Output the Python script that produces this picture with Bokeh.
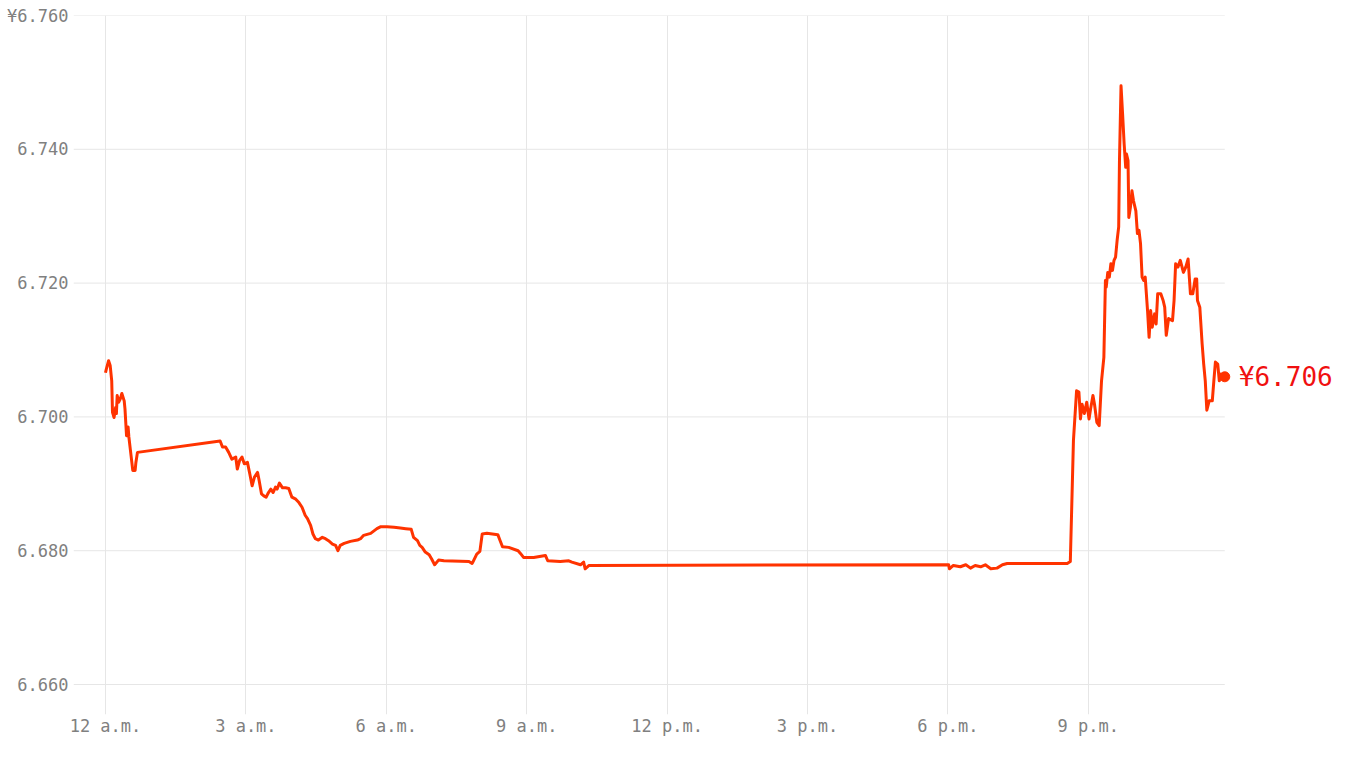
from bokeh.plotting import figure
from bokeh.models import FixedTicker, Range1d, ColumnDataSource, Label
from bokeh.embed import file_html
from bokeh.resources import INLINE

# time in minutes after midnight, price in yuan
minutes = [0, 1, 4, 6, 8, 9, 11, 13, 14, 15, 17, 19, 21, 24, 25, 27, 29, 30, 32, 35,
           38, 39, 41, 147, 150, 154, 158, 162, 167, 169, 172, 175, 178, 182, 185, 188,
           191, 195, 197, 200, 203, 206, 209, 212, 215, 218, 220, 223, 227, 231, 235,
           239, 244, 248, 252, 256, 259, 263, 266, 269, 273, 278, 282, 286, 291, 295,
           298, 301, 306, 314, 323, 327, 331, 340, 348, 353, 361, 370, 378, 385, 392,
           395, 400, 403, 406, 410, 415, 418, 422, 427, 434, 466, 470, 471, 476, 480,
           483, 489, 503, 506, 509, 517, 529, 532, 536, 549, 564, 567, 583, 594, 598,
           609, 613, 615, 620, 1081, 1082, 1087, 1096, 1103, 1109, 1115, 1122, 1128,
           1135, 1143, 1150, 1156, 1233, 1237, 1241, 1245, 1248, 1250, 1252, 1255,
           1258, 1261, 1263, 1266, 1268, 1271, 1274, 1277, 1280, 1282, 1283, 1285,
           1287, 1289, 1291, 1293, 1295, 1297, 1299, 1300, 1302, 1304, 1306, 1308,
           1309, 1311, 1312, 1314, 1316, 1318, 1321, 1323, 1325, 1327, 1329, 1331,
           1333, 1336, 1338, 1340, 1342, 1345, 1347, 1349, 1353, 1356, 1358, 1360,
           1363, 1368, 1370, 1372, 1375, 1378, 1382, 1385, 1388, 1391, 1394, 1397,
           1399, 1400, 1403, 1406, 1408, 1410, 1412, 1415, 1419, 1421, 1423, 1426,
           1428, 1430, 1435]
prices = [6.7066, 6.7071, 6.7084, 6.7077, 6.7054, 6.7007, 6.6999, 6.7014, 6.7005, 6.7032,
          6.7022, 6.7027, 6.7035, 6.7024, 6.7012, 6.6972, 6.6985, 6.6970, 6.6950, 6.6920,
          6.6920, 6.6932, 6.6947, 6.6964, 6.6955, 6.6955, 6.6947, 6.6937, 6.6940, 6.6922,
          6.6935, 6.6940, 6.6930, 6.6932, 6.6915, 6.6897, 6.6910, 6.6917, 6.6905, 6.6885,
          6.6882, 6.6880, 6.6887, 6.6892, 6.6887, 6.6895, 6.6892, 6.6901, 6.6894, 6.6894,
          6.6893, 6.6880, 6.6877, 6.6872, 6.6865, 6.6853, 6.6848, 6.6838, 6.6825, 6.6818,
          6.6816, 6.6820, 6.6818, 6.6815, 6.6810, 6.6808, 6.6800, 6.6808, 6.6811, 6.6814,
          6.6816, 6.6818, 6.6823, 6.6826, 6.6833, 6.6836, 6.6836, 6.6835, 6.6834, 6.6833,
          6.6832, 6.6820, 6.6815, 6.6808, 6.6805, 6.6798, 6.6794, 6.6788, 6.6779, 6.6786,
          6.6785, 6.6784, 6.6781, 6.6783, 6.6795, 6.6799, 6.6825, 6.6826, 6.6824, 6.6815,
          6.6806, 6.6805, 6.6800, 6.6796, 6.6790, 6.6790, 6.6793, 6.6785, 6.6784, 6.6785,
          6.6783, 6.6779, 6.6783, 6.6773, 6.6778, 6.6779, 6.6773, 6.6778, 6.6776, 6.6779,
          6.6774, 6.6778, 6.6776, 6.6779, 6.6773, 6.6774, 6.6779, 6.6781, 6.6781, 6.6784,
          6.6965, 6.7039, 6.7037, 6.6997, 6.7019, 6.7005, 6.7022, 6.6997, 6.7012, 6.7032,
          6.7019, 6.6992, 6.6987, 6.7054, 6.7089, 6.7204, 6.7194, 6.7216, 6.7209, 6.7229,
          6.7219, 6.7234, 6.7239, 6.7264, 6.7284, 6.7383, 6.7495, 6.7453, 6.7408, 6.7373,
          6.7393, 6.7383, 6.7298, 6.7313, 6.7338, 6.7323, 6.7308, 6.7274, 6.7279, 6.7259,
          6.7209, 6.7204, 6.7209, 6.7159, 6.7119, 6.7159, 6.7134, 6.7154, 6.7139, 6.7184,
          6.7184, 6.7174, 6.7164, 6.7122, 6.7147, 6.7144, 6.7174, 6.7229, 6.7224, 6.7234,
          6.7216, 6.7224, 6.7236, 6.7184, 6.7184, 6.7206, 6.7206, 6.7174, 6.7164, 6.7109,
          6.7079, 6.7054, 6.7010, 6.7024, 6.7024, 6.7054, 6.7082, 6.7079, 6.7054, 6.7064,
          6.7060]

last_time = 1435
last_price = 6.706
last_label = "¥6.706"

x_ticks = [0, 180, 360, 540, 720, 900, 1080, 1260]
x_labels = ["12 a.m.", "3 a.m.", "6 a.m.", "9 a.m.", "12 p.m.", "3 p.m.", "6 p.m.", "9 p.m."]
y_ticks = [6.66, 6.68, 6.70, 6.72, 6.74, 6.76]
y_labels = ["6.660", "6.680", "6.700", "6.720", "6.740", "¥6.760"]

LINE = "#ff3300"
GRID = "#e6e6e6"
TXT = "#808080"
FONT = "DejaVu Sans Mono"

p = figure(width=1350, height=752, output_backend="svg", toolbar_location=None,
           x_range=Range1d(-41.0, 1596.2), y_range=Range1d(6.65552, 6.760),
           min_border_left=73, min_border_right=0, min_border_top=15, min_border_bottom=38)
p.outline_line_color = None
p.background_fill_color = "white"
p.border_fill_color = "white"

# axes
p.xaxis.ticker = FixedTicker(ticks=x_ticks)
p.xaxis.major_label_overrides = {t: l for t, l in zip(x_ticks, x_labels)}
p.yaxis.ticker = FixedTicker(ticks=y_ticks)
p.yaxis.major_label_overrides = {t: l for t, l in zip(y_ticks, y_labels)}
for ax in (p.xaxis, p.yaxis):
    ax.axis_line_color = None
    ax.major_tick_line_color = None
    ax.minor_tick_line_color = None
    ax.major_tick_out = 0
    ax.major_tick_in = 0
    ax.minor_tick_out = 0
    ax.minor_tick_in = 0
    ax.major_label_text_font = FONT
    ax.major_label_text_font_size = "17px"
    ax.major_label_text_color = TXT
p.xaxis.major_label_standoff = 1
p.yaxis.major_label_standoff = 5

p.xgrid.ticker = FixedTicker(ticks=x_ticks)
p.xgrid.grid_line_color = GRID
p.xgrid.grid_line_width = 1
p.ygrid.grid_line_color = None

# horizontal grid lines, ending at the last point
grid_src = ColumnDataSource(dict(x0=[p.x_range.start] * len(y_ticks),
                                 x1=[last_time] * len(y_ticks), y=y_ticks))
p.segment(x0="x0", y0="y", x1="x1", y1="y", source=grid_src,
          line_color=GRID, line_width=1)

p.line(minutes, prices, line_color=LINE, line_width=3, line_join="round")
p.scatter([last_time], [last_price], size=10, color=LINE)
p.add_layout(Label(x=last_time, y=last_price, text=last_label, x_offset=14,
                   text_baseline="middle", text_align="left", text_font=FONT,
                   text_font_size="26px", text_color="#f01010"))

open("out.html", "w").write(file_html(p, INLINE))
